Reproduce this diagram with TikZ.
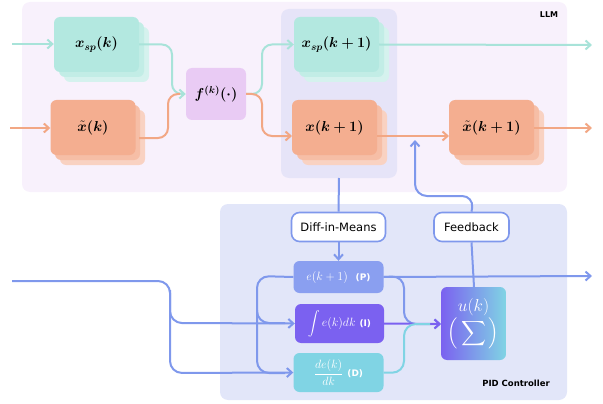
\documentclass[tikz,border=0pt]{standalone}
\usepackage{amsmath,bm}
\usepackage{fontspec}
\newfontfamily\dvs{DejaVu Sans}
\usetikzlibrary{arrows.meta,calc}
\definecolor{tealF}{HTML}{B3E8E0}
\definecolor{tealA}{HTML}{A8E3D9}
\definecolor{oraF}{HTML}{F4AE90}
\definecolor{oraA}{HTML}{F2A784}
\definecolor{fF}{HTML}{E9CBF4}
\definecolor{llmBG}{HTML}{F8F1FC}
\definecolor{colBG}{HTML}{E6E4F8}
\definecolor{pidBG}{HTML}{E2E6F9}
\definecolor{blu}{HTML}{7F98EC}
\definecolor{pF}{HTML}{8A9FF0}
\definecolor{iF}{HTML}{7B61F0}
\definecolor{dF}{HTML}{80D4E4}
\begin{document}
\begin{tikzpicture}[x=1pt,y=-1pt,
  box/.style={rounded corners=6pt,inner sep=0pt},
  stack/.style={box,fill=#1,minimum width=85pt,minimum height=55pt,font=\Large},
  tarr/.style={tealA,line width=2pt,-{Straight Barb[length=5pt,width=9pt]},rounded corners=10pt},
  oarr/.style={oraA,line width=2pt,-{Straight Barb[length=5pt,width=9pt]},rounded corners=10pt},
  barr/.style={blu,line width=2pt,-{Straight Barb[length=5pt,width=9pt]},rounded corners=12pt},
  bl/.style={blu,line width=2pt,rounded corners=12pt},
  wbox/.style={box,fill=white,draw=blu,line width=1.6pt,minimum width=94pt,minimum height=29pt,rounded corners=8pt,font=\dvs\fontsize{11.5}{13}\selectfont},
  pid/.style={box,minimum width=90pt,text=white,font=\large}]
\useasboundingbox (0,0) rectangle (603,404);
% panels
\fill[llmBG,rounded corners=8pt] (22,2) rectangle (567,192);
\node[font=\dvs\fontsize{8}{9}\selectfont\bfseries] (llm) at (549,15) {LLM};
\fill[colBG,rounded corners=8pt] (281,9) rectangle (397,178);
\fill[pidBG,rounded corners=8pt] (220,204) rectangle (567,400);
\node[font=\dvs\fontsize{8.5}{10}\selectfont\bfseries] (pidl) at (516,383) {PID Controller};
% shadows
\foreach \x/\y/\c in {54/17/tealF,50/100/oraF,294/17/tealF,292/100/oraF,449/100/oraF}{
  \fill[\c!55,rounded corners=6pt] (\x+10,\y+10) rectangle ++(85,55);
  \fill[\c!80,rounded corners=6pt] (\x+5,\y+5) rectangle ++(85,55);}
\node[stack=tealF] (xsp) at (96.5,44.5) {$\bm{x_{sp}(k)}$};
\node[stack=oraF] (xt) at (93,127.5) {$\bm{\tilde{x}(k)}$};
\node[box,fill=fF,minimum width=60pt,minimum height=52pt,font=\Large] (f) at (216,94) {$\bm{f^{(k)}(\cdot)}$};
\node[stack=tealF] (xsp1) at (336.5,44.5) {$\bm{x_{sp}(k+1)}$};
\node[stack=oraF] (x1) at (334.5,127.5) {$\bm{x(k+1)}$};
\node[stack=oraF] (xt1) at (491.5,127.5) {$\bm{\tilde{x}(k+1)}$};
\coordinate (inT) at (12,44); \coordinate (inO) at (10,128);
\coordinate (outT) at (592,45); \coordinate (outO) at (592,128);
\draw[tarr] (inT) -- (xsp.west|-inT);
\draw[oarr] (inO) -- (xt.west|-inO);
\draw[tarr] (xsp.east) -- (172,44.5) -- (172,94) -- (f.west);
\draw[oarr,-] (139,138) -- (168,138) -- (168,94) -- (180,94);
\draw[tarr] (f.east) -- (262,94) -- (262,44.5) -- (xsp1.west);
\draw[oarr] (f.east) -- (262,94) -- (262,136) -- (292,136);
\draw[tarr] (xsp1.east) -- (outT);
\draw[oarr] (377,136) -- (449,136);
\draw[oarr] (534,128) -- (outO);
% PID
\node[wbox] (dim) at (338.5,227) {Diff-in-Means};
\node[wbox,minimum width=75pt] (fb) at (471.5,227) {Feedback};
\node[pid,fill=pF,minimum height=32pt] (P) at (338.5,277) {$e(k+1)$\ \ {\dvs\small\bfseries(P)}};
\node[pid,fill=iF,minimum width=89pt,minimum height=39pt] (I) at (339.5,323.5) {$\displaystyle\int e(k)dk$ {\dvs\small\bfseries(I)}};
\node[pid,fill=dF,minimum height=39pt] (D) at (338.5,372.5) {$\dfrac{de(k)}{dk}$ {\dvs\small\bfseries(D)}};
\shade[left color=iF,right color=dF,rounded corners=6pt] (441,287) rectangle (506,360);
\node[text=white,align=center,font=\LARGE] (u) at (473.5,323.5) {$u(k)$\\[1pt]$\displaystyle\Big(\sum\Big)$};
\coordinate (uw) at (441,324);
\draw[bl] (339,178) -- (dim.north);
\draw[barr] (dim.south) -- (P.north);
\draw[bl] (fb.south) -- (474,287);
\draw[barr] (fb.north) -- (474,196) -- (415,196) -- (415,140);
\draw[barr] (P.east) -- (592,276);
\draw[barr] (P.east) -- (404,276) -- (404,324) -- (uw);
\draw[barr,iF] (I.east) -- (uw);
\draw[bl,dF] (D.east) -- (404,373) -- (404,324) -- (430,324);
\coordinate (inB) at (12,281);
\draw[barr] (inB) -- (170,281) -- (170,323) -- (I.west);
\draw[barr] (170,290) -- (170,373) -- (D.west);
\draw[bl] (P.west) -- (257,276) -- (257,323) -- (285,323);
\draw[bl] (257,310) -- (257,373) -- (285,373);
\end{tikzpicture}
\end{document}
